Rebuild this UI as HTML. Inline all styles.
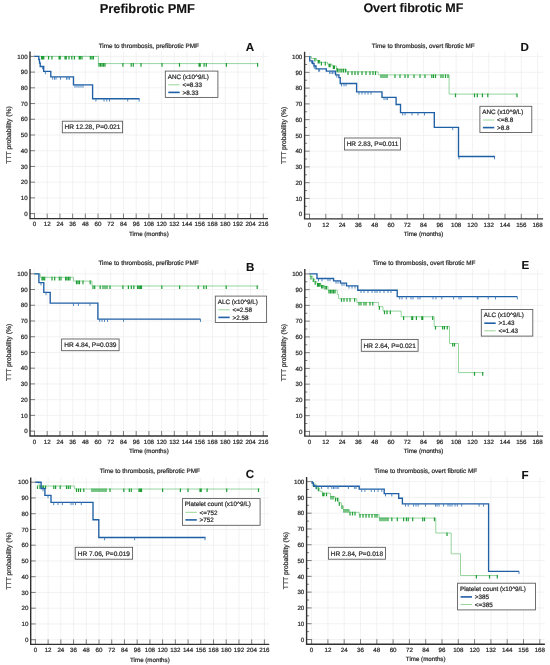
<!DOCTYPE html><html><head><meta charset='utf-8'><style>html,body{margin:0;padding:0;background:#fff;}svg{display:block;will-change:transform;} text{text-rendering:geometricPrecision;stroke:#2b2b2b;stroke-width:0.22px;} text.hd{stroke:#111;stroke-width:0.1px;}</style></head><body>
<svg width='550' height='665' viewBox='0 0 550 665' font-family="'Liberation Sans', sans-serif">
<rect width='550' height='665' fill='#fff'/>
<text x='147.3' y='12.6' text-anchor='middle' font-size='12.9' font-weight='bold' fill='#111' class='hd'>Prefibrotic PMF</text>
<text x='413.4' y='12.1' text-anchor='middle' font-size='12.5' font-weight='bold' fill='#111' class='hd'>Overt fibrotic MF</text>
<path d='M34.50 51.50V218.60M47.21 51.50V218.60M59.92 51.50V218.60M72.63 51.50V218.60M85.34 51.50V218.60M98.06 51.50V218.60M110.77 51.50V218.60M123.48 51.50V218.60M136.19 51.50V218.60M148.90 51.50V218.60M161.61 51.50V218.60M174.32 51.50V218.60M187.03 51.50V218.60M199.74 51.50V218.60M212.46 51.50V218.60M225.17 51.50V218.60M237.88 51.50V218.60M250.59 51.50V218.60M263.30 51.50V218.60M30.00 213.60H268.00M30.00 197.88H268.00M30.00 182.16H268.00M30.00 166.44H268.00M30.00 150.72H268.00M30.00 135.00H268.00M30.00 119.28H268.00M30.00 103.56H268.00M30.00 87.84H268.00M30.00 72.12H268.00M30.00 56.40H268.00' stroke='#efefef' stroke-width='0.8' fill='none'/>
<path d='M34.50 218.60V213.60M47.21 218.60V213.60M59.92 218.60V213.60M72.63 218.60V213.60M85.34 218.60V213.60M98.06 218.60V213.60M110.77 218.60V213.60M123.48 218.60V213.60M136.19 218.60V213.60M148.90 218.60V213.60M161.61 218.60V213.60M174.32 218.60V213.60M187.03 218.60V213.60M199.74 218.60V213.60M212.46 218.60V213.60M225.17 218.60V213.60M237.88 218.60V213.60M250.59 218.60V213.60M263.30 218.60V213.60M30.00 213.60H35.00M30.00 197.88H35.00M30.00 182.16H35.00M30.00 166.44H35.00M30.00 150.72H35.00M30.00 135.00H35.00M30.00 119.28H35.00M30.00 103.56H35.00M30.00 87.84H35.00M30.00 72.12H35.00M30.00 56.40H35.00' stroke='#606060' stroke-width='0.8' fill='none'/>
<path d='M30.00 51.50V218.60H268.00' stroke='#303030' stroke-width='1.4' fill='none'/>
<g font-size='6.2' fill='#2b2b2b'><text x='34.50' y='226.20' text-anchor='middle'>0</text><text x='47.21' y='226.20' text-anchor='middle'>12</text><text x='59.92' y='226.20' text-anchor='middle'>24</text><text x='72.63' y='226.20' text-anchor='middle'>36</text><text x='85.34' y='226.20' text-anchor='middle'>48</text><text x='98.06' y='226.20' text-anchor='middle'>60</text><text x='110.77' y='226.20' text-anchor='middle'>72</text><text x='123.48' y='226.20' text-anchor='middle'>84</text><text x='136.19' y='226.20' text-anchor='middle'>96</text><text x='148.90' y='226.20' text-anchor='middle'>108</text><text x='161.61' y='226.20' text-anchor='middle'>120</text><text x='174.32' y='226.20' text-anchor='middle'>132</text><text x='187.03' y='226.20' text-anchor='middle'>144</text><text x='199.74' y='226.20' text-anchor='middle'>156</text><text x='212.46' y='226.20' text-anchor='middle'>168</text><text x='225.17' y='226.20' text-anchor='middle'>180</text><text x='237.88' y='226.20' text-anchor='middle'>192</text><text x='250.59' y='226.20' text-anchor='middle'>204</text><text x='263.30' y='226.20' text-anchor='middle'>216</text><text x='27.70' y='215.80' text-anchor='end'>0</text><text x='27.70' y='200.08' text-anchor='end'>10</text><text x='27.70' y='184.36' text-anchor='end'>20</text><text x='27.70' y='168.64' text-anchor='end'>30</text><text x='27.70' y='152.92' text-anchor='end'>40</text><text x='27.70' y='137.20' text-anchor='end'>50</text><text x='27.70' y='121.48' text-anchor='end'>60</text><text x='27.70' y='105.76' text-anchor='end'>70</text><text x='27.70' y='90.04' text-anchor='end'>80</text><text x='27.70' y='74.32' text-anchor='end'>90</text><text x='27.70' y='58.60' text-anchor='end'>100</text></g>
<text x='148.90' y='235.80' text-anchor='middle' font-size='6.2' fill='#2b2b2b'>Time (months)</text>
<text transform='translate(10.60 135.00) rotate(-90)' text-anchor='middle' font-size='6.75' fill='#2b2b2b'>TTT probability (%)</text>
<text x='148.80' y='47.80' text-anchor='middle' font-size='6.35' fill='#2b2b2b'>Time to thrombosis, prefibrotic PMF</text>
<text x='245.80' y='50.70' font-size='11.6' font-weight='bold' fill='#111' class='hd'>A</text>
<path d='M34.5 56.4H98.4V63.6H258' stroke='#74c880' stroke-width='0.75' fill='none'/>
<path d='M41.6 55.9v3.6M42.7 55.9v3.6M43.8 55.9v3.6M48.6 55.9v3.6M51.9 55.9v3.6M59.1 55.9v3.6M60.2 55.9v3.6M65 55.9v3.6M66.3 55.9v3.6M69 55.9v3.6M71.8 55.9v3.6M74.4 55.9v3.6M79.2 55.9v3.6M80.3 55.9v3.6M82 55.9v3.6M90.3 55.9v3.6M91.9 55.9v3.6M93.4 55.9v3.6M99 63.1v3.6M100.5 63.1v3.6M102 63.1v3.6M103.5 63.1v3.6M105 63.1v3.6M122.9 63.1v3.6M131.2 63.1v3.6M133.3 63.1v3.6M141 63.1v3.6M162 63.1v3.6M179.5 63.1v3.6M199.1 63.1v3.6M200.2 63.1v3.6M204.1 63.1v3.6M206.3 63.1v3.6M226.4 63.1v3.6M257.6 63.1v3.6' stroke='#1f9e36' stroke-width='1.2' fill='none'/>
<path d='M34.5 56.4H38.8V59.5H39.5V63H40.2V66.5H43.7V71.4H50.8V76.9H73.5V84.9H92.6V98.7H139.5' stroke='#1f5fa6' stroke-width='1.35' fill='none' stroke-linejoin='miter'/>
<path d='M42.6 66.5v2.8M45.4 71.4v2.8M52.7 76.9v2.8M54.5 76.9v2.8M56 76.9v2.8M60.5 76.9v2.8M66.5 76.9v2.8M68 76.9v2.8M69.5 76.9v2.8M75 84.9v2.8M77 84.9v2.8M79 84.9v2.8M81 84.9v2.8M83 84.9v2.8M95.9 98.7v2.8M104 98.7v2.8M106.8 98.7v2.8M109.5 98.7v2.8M127.7 98.7v2.8M139.2 98.7v2.8' stroke='#3d78b8' stroke-width='0.9' fill='none'/>
<rect x='165.3' y='71.1' width='52.599999999999994' height='26.30000000000001' fill='#fff' stroke='#555' stroke-width='0.85'/>
<text x='167.70000000000002' y='78.69999999999999' font-size='6.3' fill='#2b2b2b'>ANC (x10^9/L)</text>
<path d='M168.3 84.8h11.4' stroke='#98d698' stroke-width='1.0'/>
<text x='182.5' y='87.0' font-size='6.3' fill='#2b2b2b'>&lt;=8.33</text>
<path d='M168.3 92.39999999999999h11.4' stroke='#1f5fa6' stroke-width='1.6'/>
<text x='182.5' y='94.6' font-size='6.3' fill='#2b2b2b'>&gt;8.33</text>
<rect x='62.3' y='121.2' width='60.3' height='11.600000000000009' fill='#fff' stroke='#555' stroke-width='0.85'/>
<text x='92.45' y='129.20' text-anchor='middle' font-size='6.55' fill='#2b2b2b'>HR 12.28, P=0.021</text>
<path d='M34.50 268.90V436.00M47.21 268.90V436.00M59.92 268.90V436.00M72.63 268.90V436.00M85.34 268.90V436.00M98.06 268.90V436.00M110.77 268.90V436.00M123.48 268.90V436.00M136.19 268.90V436.00M148.90 268.90V436.00M161.61 268.90V436.00M174.32 268.90V436.00M187.03 268.90V436.00M199.74 268.90V436.00M212.46 268.90V436.00M225.17 268.90V436.00M237.88 268.90V436.00M250.59 268.90V436.00M263.30 268.90V436.00M30.00 431.10H268.00M30.00 415.37H268.00M30.00 399.64H268.00M30.00 383.91H268.00M30.00 368.18H268.00M30.00 352.45H268.00M30.00 336.72H268.00M30.00 320.99H268.00M30.00 305.26H268.00M30.00 289.53H268.00M30.00 273.80H268.00' stroke='#efefef' stroke-width='0.8' fill='none'/>
<path d='M34.50 436.00V431.00M47.21 436.00V431.00M59.92 436.00V431.00M72.63 436.00V431.00M85.34 436.00V431.00M98.06 436.00V431.00M110.77 436.00V431.00M123.48 436.00V431.00M136.19 436.00V431.00M148.90 436.00V431.00M161.61 436.00V431.00M174.32 436.00V431.00M187.03 436.00V431.00M199.74 436.00V431.00M212.46 436.00V431.00M225.17 436.00V431.00M237.88 436.00V431.00M250.59 436.00V431.00M263.30 436.00V431.00M30.00 431.10H35.00M30.00 415.37H35.00M30.00 399.64H35.00M30.00 383.91H35.00M30.00 368.18H35.00M30.00 352.45H35.00M30.00 336.72H35.00M30.00 320.99H35.00M30.00 305.26H35.00M30.00 289.53H35.00M30.00 273.80H35.00' stroke='#606060' stroke-width='0.8' fill='none'/>
<path d='M30.00 268.90V436.00H268.00' stroke='#303030' stroke-width='1.4' fill='none'/>
<g font-size='6.2' fill='#2b2b2b'><text x='34.50' y='443.60' text-anchor='middle'>0</text><text x='47.21' y='443.60' text-anchor='middle'>12</text><text x='59.92' y='443.60' text-anchor='middle'>24</text><text x='72.63' y='443.60' text-anchor='middle'>36</text><text x='85.34' y='443.60' text-anchor='middle'>48</text><text x='98.06' y='443.60' text-anchor='middle'>60</text><text x='110.77' y='443.60' text-anchor='middle'>72</text><text x='123.48' y='443.60' text-anchor='middle'>84</text><text x='136.19' y='443.60' text-anchor='middle'>96</text><text x='148.90' y='443.60' text-anchor='middle'>108</text><text x='161.61' y='443.60' text-anchor='middle'>120</text><text x='174.32' y='443.60' text-anchor='middle'>132</text><text x='187.03' y='443.60' text-anchor='middle'>144</text><text x='199.74' y='443.60' text-anchor='middle'>156</text><text x='212.46' y='443.60' text-anchor='middle'>168</text><text x='225.17' y='443.60' text-anchor='middle'>180</text><text x='237.88' y='443.60' text-anchor='middle'>192</text><text x='250.59' y='443.60' text-anchor='middle'>204</text><text x='263.30' y='443.60' text-anchor='middle'>216</text><text x='27.70' y='433.30' text-anchor='end'>0</text><text x='27.70' y='417.57' text-anchor='end'>10</text><text x='27.70' y='401.84' text-anchor='end'>20</text><text x='27.70' y='386.11' text-anchor='end'>30</text><text x='27.70' y='370.38' text-anchor='end'>40</text><text x='27.70' y='354.65' text-anchor='end'>50</text><text x='27.70' y='338.92' text-anchor='end'>60</text><text x='27.70' y='323.19' text-anchor='end'>70</text><text x='27.70' y='307.46' text-anchor='end'>80</text><text x='27.70' y='291.73' text-anchor='end'>90</text><text x='27.70' y='276.00' text-anchor='end'>100</text></g>
<text x='148.90' y='453.20' text-anchor='middle' font-size='6.2' fill='#2b2b2b'>Time (months)</text>
<text transform='translate(10.60 352.45) rotate(-90)' text-anchor='middle' font-size='6.75' fill='#2b2b2b'>TTT probability (%)</text>
<text x='148.60' y='265.10' text-anchor='middle' font-size='6.35' fill='#2b2b2b'>Time to thrombosis, prefibrotic PMF</text>
<text x='245.90' y='270.80' font-size='11.6' font-weight='bold' fill='#111' class='hd'>B</text>
<path d='M34.5 273.8H40.2V277.3H73.5V281.1H92V286H258.5' stroke='#74c880' stroke-width='0.75' fill='none'/>
<path d='M42 276.8v3.6M43.3 276.8v3.6M44.7 276.8v3.6M52 276.8v3.6M54.7 276.8v3.6M59.3 276.8v3.6M61 276.8v3.6M65.6 276.8v3.6M67 276.8v3.6M68.5 276.8v3.6M70 276.8v3.6M76.5 280.6v3.6M78 280.6v3.6M79.5 280.6v3.6M83 280.6v3.6M90.2 280.6v3.6M93 285.5v3.6M94.7 285.5v3.6M100.2 285.5v3.6M103 285.5v3.6M105 285.5v3.6M107 285.5v3.6M110 285.5v3.6M122.9 285.5v3.6M128.4 285.5v3.6M131.3 285.5v3.6M133.8 285.5v3.6M137.6 285.5v3.6M139 285.5v3.6M140.3 285.5v3.6M141.5 285.5v3.6M161.8 285.5v3.6M179.6 285.5v3.6M198.2 285.5v3.6M203.8 285.5v3.6M206.3 285.5v3.6M226.2 285.5v3.6M257.2 285.5v3.6' stroke='#1f9e36' stroke-width='1.2' fill='none'/>
<path d='M34.5 273.8H38.9V282.6H43.8V292.4H50.2V303.1H97.9V319.1H200.5' stroke='#1f5fa6' stroke-width='1.35' fill='none' stroke-linejoin='miter'/>
<path d='M41 282.6v2.8M46 292.4v2.8M73.5 303.1v2.8M78.4 303.1v2.8M90 303.1v2.8M99.7 319.1v2.8M102 319.1v2.8M104.5 319.1v2.8M107.5 319.1v2.8M123.5 319.1v2.8M200.5 319.1v2.8' stroke='#3d78b8' stroke-width='0.9' fill='none'/>
<rect x='215.3' y='296.1' width='51.30000000000001' height='26.399999999999977' fill='#fff' stroke='#555' stroke-width='0.85'/>
<text x='217.70000000000002' y='303.70000000000005' font-size='6.3' fill='#2b2b2b'>ALC (x10^9/L)</text>
<path d='M218.3 309.8h11.4' stroke='#98d698' stroke-width='1.0'/>
<text x='232.5' y='312.0' font-size='6.3' fill='#2b2b2b'>&lt;=2.58</text>
<path d='M218.3 317.40000000000003h11.4' stroke='#1f5fa6' stroke-width='1.6'/>
<text x='232.5' y='319.6' font-size='6.3' fill='#2b2b2b'>&gt;2.58</text>
<rect x='61.6' y='339' width='57.49999999999999' height='11.699999999999989' fill='#fff' stroke='#555' stroke-width='0.85'/>
<text x='90.35' y='347.10' text-anchor='middle' font-size='6.55' fill='#2b2b2b'>HR 4.84, P=0.039</text>
<path d='M35.40 477.40V644.40M48.12 477.40V644.40M60.84 477.40V644.40M73.57 477.40V644.40M86.29 477.40V644.40M99.01 477.40V644.40M111.73 477.40V644.40M124.46 477.40V644.40M137.18 477.40V644.40M149.90 477.40V644.40M162.62 477.40V644.40M175.34 477.40V644.40M188.07 477.40V644.40M200.79 477.40V644.40M213.51 477.40V644.40M226.23 477.40V644.40M238.96 477.40V644.40M251.68 477.40V644.40M264.40 477.40V644.40M30.70 639.70H269.20M30.70 623.95H269.20M30.70 608.20H269.20M30.70 592.45H269.20M30.70 576.70H269.20M30.70 560.95H269.20M30.70 545.20H269.20M30.70 529.45H269.20M30.70 513.70H269.20M30.70 497.95H269.20M30.70 482.20H269.20' stroke='#efefef' stroke-width='0.8' fill='none'/>
<path d='M35.40 644.40V639.40M48.12 644.40V639.40M60.84 644.40V639.40M73.57 644.40V639.40M86.29 644.40V639.40M99.01 644.40V639.40M111.73 644.40V639.40M124.46 644.40V639.40M137.18 644.40V639.40M149.90 644.40V639.40M162.62 644.40V639.40M175.34 644.40V639.40M188.07 644.40V639.40M200.79 644.40V639.40M213.51 644.40V639.40M226.23 644.40V639.40M238.96 644.40V639.40M251.68 644.40V639.40M264.40 644.40V639.40M30.70 639.70H35.70M30.70 623.95H35.70M30.70 608.20H35.70M30.70 592.45H35.70M30.70 576.70H35.70M30.70 560.95H35.70M30.70 545.20H35.70M30.70 529.45H35.70M30.70 513.70H35.70M30.70 497.95H35.70M30.70 482.20H35.70' stroke='#606060' stroke-width='0.8' fill='none'/>
<path d='M30.70 477.40V644.40H269.20' stroke='#303030' stroke-width='1.4' fill='none'/>
<g font-size='6.2' fill='#2b2b2b'><text x='35.40' y='652.00' text-anchor='middle'>0</text><text x='48.12' y='652.00' text-anchor='middle'>12</text><text x='60.84' y='652.00' text-anchor='middle'>24</text><text x='73.57' y='652.00' text-anchor='middle'>36</text><text x='86.29' y='652.00' text-anchor='middle'>48</text><text x='99.01' y='652.00' text-anchor='middle'>60</text><text x='111.73' y='652.00' text-anchor='middle'>72</text><text x='124.46' y='652.00' text-anchor='middle'>84</text><text x='137.18' y='652.00' text-anchor='middle'>96</text><text x='149.90' y='652.00' text-anchor='middle'>108</text><text x='162.62' y='652.00' text-anchor='middle'>120</text><text x='175.34' y='652.00' text-anchor='middle'>132</text><text x='188.07' y='652.00' text-anchor='middle'>144</text><text x='200.79' y='652.00' text-anchor='middle'>156</text><text x='213.51' y='652.00' text-anchor='middle'>168</text><text x='226.23' y='652.00' text-anchor='middle'>180</text><text x='238.96' y='652.00' text-anchor='middle'>192</text><text x='251.68' y='652.00' text-anchor='middle'>204</text><text x='264.40' y='652.00' text-anchor='middle'>216</text><text x='28.40' y='641.90' text-anchor='end'>0</text><text x='28.40' y='626.15' text-anchor='end'>10</text><text x='28.40' y='610.40' text-anchor='end'>20</text><text x='28.40' y='594.65' text-anchor='end'>30</text><text x='28.40' y='578.90' text-anchor='end'>40</text><text x='28.40' y='563.15' text-anchor='end'>50</text><text x='28.40' y='547.40' text-anchor='end'>60</text><text x='28.40' y='531.65' text-anchor='end'>70</text><text x='28.40' y='515.90' text-anchor='end'>80</text><text x='28.40' y='500.15' text-anchor='end'>90</text><text x='28.40' y='484.40' text-anchor='end'>100</text></g>
<text x='149.90' y='661.60' text-anchor='middle' font-size='6.2' fill='#2b2b2b'>Time (months)</text>
<text transform='translate(11.30 560.95) rotate(-90)' text-anchor='middle' font-size='6.75' fill='#2b2b2b'>TTT probability (%)</text>
<text x='149.80' y='473.20' text-anchor='middle' font-size='6.35' fill='#2b2b2b'>Time to thrombosis, prefibrotic PMF</text>
<text x='245.80' y='478.30' font-size='11.6' font-weight='bold' fill='#111' class='hd'>C</text>
<path d='M35.4 482.2H39V486H74.7V489H259.8' stroke='#74c880' stroke-width='0.75' fill='none'/>
<path d='M37.5 485.5v3.6M40 485.5v3.6M42 485.5v3.6M43.5 485.5v3.6M45.6 485.5v3.6M53.8 485.5v3.6M55.6 485.5v3.6M60.2 485.5v3.6M66.5 485.5v3.6M68.3 485.5v3.6M70.2 485.5v3.6M76.5 488.5v3.6M78.5 488.5v3.6M80.5 488.5v3.6M83.8 488.5v3.6M92 488.5v3.6M94 488.5v3.6M96 488.5v3.6M98 488.5v3.6M100 488.5v3.6M102 488.5v3.6M104 488.5v3.6M106 488.5v3.6M110 488.5v3.6M123.8 488.5v3.6M129.3 488.5v3.6M131.3 488.5v3.6M139 488.5v3.6M140.3 488.5v3.6M141.5 488.5v3.6M162.6 488.5v3.6M180.4 488.5v3.6M188 488.5v3.6M200 488.5v3.6M201.2 488.5v3.6M207.1 488.5v3.6M226.7 488.5v3.6M258.5 488.5v3.6' stroke='#1f9e36' stroke-width='1.2' fill='none'/>
<path d='M35.4 482.2H41.1V488.5H44.9V495.3H51V502.3H93V519.7H98.8V537.5H205.6' stroke='#1f5fa6' stroke-width='1.35' fill='none' stroke-linejoin='miter'/>
<path d='M43 488.5v2.8M48 495.3v2.8M53.7 502.3v2.8M58 502.3v2.8M62.4 502.3v2.8M71 502.3v2.8M73 502.3v2.8M75.5 502.3v2.8M81.3 502.3v2.8M104.6 537.5v2.8M134.6 537.5v2.8M205 537.5v2.8' stroke='#3d78b8' stroke-width='0.9' fill='none'/>
<rect x='182.4' y='498.6' width='77.70000000000002' height='26.699999999999932' fill='#fff' stroke='#555' stroke-width='0.85'/>
<text x='184.8' y='506.20000000000005' font-size='6.3' fill='#2b2b2b'>Platelet count (x10^9/L)</text>
<path d='M185.4 512.3000000000001h11.4' stroke='#98d698' stroke-width='1.0'/>
<text x='199.6' y='514.5000000000001' font-size='6.3' fill='#2b2b2b'>&lt;=752</text>
<path d='M185.4 519.9000000000001h11.4' stroke='#1f5fa6' stroke-width='1.6'/>
<text x='199.6' y='522.1000000000001' font-size='6.3' fill='#2b2b2b'>&gt;752</text>
<rect x='75.2' y='547.3' width='57.39999999999999' height='11.900000000000091' fill='#fff' stroke='#555' stroke-width='0.85'/>
<text x='103.90' y='555.60' text-anchor='middle' font-size='6.55' fill='#2b2b2b'>HR 7.06, P=0.019</text>
<path d='M309.50 51.80V218.90M325.79 51.80V218.90M342.09 51.80V218.90M358.38 51.80V218.90M374.67 51.80V218.90M390.96 51.80V218.90M407.26 51.80V218.90M423.55 51.80V218.90M439.84 51.80V218.90M456.14 51.80V218.90M472.43 51.80V218.90M488.72 51.80V218.90M505.01 51.80V218.90M521.31 51.80V218.90M537.60 51.80V218.90M304.60 214.20H543.10M304.60 198.44H543.10M304.60 182.68H543.10M304.60 166.92H543.10M304.60 151.16H543.10M304.60 135.40H543.10M304.60 119.64H543.10M304.60 103.88H543.10M304.60 88.12H543.10M304.60 72.36H543.10M304.60 56.60H543.10' stroke='#efefef' stroke-width='0.8' fill='none'/>
<path d='M309.50 218.90V213.90M325.79 218.90V213.90M342.09 218.90V213.90M358.38 218.90V213.90M374.67 218.90V213.90M390.96 218.90V213.90M407.26 218.90V213.90M423.55 218.90V213.90M439.84 218.90V213.90M456.14 218.90V213.90M472.43 218.90V213.90M488.72 218.90V213.90M505.01 218.90V213.90M521.31 218.90V213.90M537.60 218.90V213.90M304.60 214.20H309.60M304.60 198.44H309.60M304.60 182.68H309.60M304.60 166.92H309.60M304.60 151.16H309.60M304.60 135.40H309.60M304.60 119.64H309.60M304.60 103.88H309.60M304.60 88.12H309.60M304.60 72.36H309.60M304.60 56.60H309.60M304.60 206.32H307.10M304.60 190.56H307.10M304.60 174.80H307.10M304.60 159.04H307.10M304.60 143.28H307.10M304.60 127.52H307.10M304.60 111.76H307.10M304.60 96.00H307.10M304.60 80.24H307.10M304.60 64.48H307.10' stroke='#606060' stroke-width='0.8' fill='none'/>
<path d='M304.60 51.80V218.90H543.10' stroke='#303030' stroke-width='1.4' fill='none'/>
<g font-size='6.2' fill='#2b2b2b'><text x='309.50' y='226.50' text-anchor='middle'>0</text><text x='325.79' y='226.50' text-anchor='middle'>12</text><text x='342.09' y='226.50' text-anchor='middle'>24</text><text x='358.38' y='226.50' text-anchor='middle'>36</text><text x='374.67' y='226.50' text-anchor='middle'>48</text><text x='390.96' y='226.50' text-anchor='middle'>60</text><text x='407.26' y='226.50' text-anchor='middle'>72</text><text x='423.55' y='226.50' text-anchor='middle'>84</text><text x='439.84' y='226.50' text-anchor='middle'>96</text><text x='456.14' y='226.50' text-anchor='middle'>108</text><text x='472.43' y='226.50' text-anchor='middle'>120</text><text x='488.72' y='226.50' text-anchor='middle'>132</text><text x='505.01' y='226.50' text-anchor='middle'>144</text><text x='521.31' y='226.50' text-anchor='middle'>156</text><text x='537.60' y='226.50' text-anchor='middle'>168</text><text x='302.30' y='216.40' text-anchor='end'>0</text><text x='302.30' y='200.64' text-anchor='end'>10</text><text x='302.30' y='184.88' text-anchor='end'>20</text><text x='302.30' y='169.12' text-anchor='end'>30</text><text x='302.30' y='153.36' text-anchor='end'>40</text><text x='302.30' y='137.60' text-anchor='end'>50</text><text x='302.30' y='121.84' text-anchor='end'>60</text><text x='302.30' y='106.08' text-anchor='end'>70</text><text x='302.30' y='90.32' text-anchor='end'>80</text><text x='302.30' y='74.56' text-anchor='end'>90</text><text x='302.30' y='58.80' text-anchor='end'>100</text></g>
<text x='423.55' y='236.10' text-anchor='middle' font-size='6.2' fill='#2b2b2b'>Time (months)</text>
<text transform='translate(286.00 135.40) rotate(-90)' text-anchor='middle' font-size='6.75' fill='#2b2b2b'>TTT probability (%)</text>
<text x='423.20' y='47.80' text-anchor='middle' font-size='6.35' fill='#2b2b2b'>Time to thrombosis, overt fibrotic MF</text>
<text x='520.60' y='50.50' font-size='11.6' font-weight='bold' fill='#111' class='hd'>D</text>
<path d='M309.5 56.6H311.5V58.5H316.5V60.5H320V62.3H327.5V64.2H332V66H336.5V68.6H337.5V69.3H346.4V71.8H378.2V74.9H449.1V94.1H516.9' stroke='#74c880' stroke-width='0.75' fill='none'/>
<path d='M314.9 58.0v3.6M318.2 60.0v3.6M319.2 60.0v3.6M321.4 61.8v3.6M325.3 61.8v3.6M329.1 63.7v3.6M330.1 63.7v3.6M333.4 65.5v3.6M334.4 65.5v3.6M337 68.1v3.6M338 68.8v3.6M340 68.8v3.6M341.8 68.8v3.6M343.5 68.8v3.6M345.5 68.8v3.6M348 71.3v3.6M352 71.3v3.6M355 71.3v3.6M358 71.3v3.6M362 71.3v3.6M366 71.3v3.6M370 71.3v3.6M373 71.3v3.6M375.5 71.3v3.6M381 74.4v3.6M383 74.4v3.6M385 74.4v3.6M387 74.4v3.6M395 74.4v3.6M400 74.4v3.6M405 74.4v3.6M408 74.4v3.6M414 74.4v3.6M420 74.4v3.6M425 74.4v3.6M431.8 74.4v3.6M433.5 74.4v3.6M435.5 74.4v3.6M441 74.4v3.6M443 74.4v3.6M445.5 74.4v3.6M448 74.4v3.6M455.5 93.6v3.6M474.5 93.6v3.6M477.3 93.6v3.6M482.4 93.6v3.6M487.8 93.6v3.6M517 93.6v3.6' stroke='#1f9e36' stroke-width='1.2' fill='none'/>
<path d='M309.5 56.6H309.8V60.8H312.7V63.5H314V66H316V68.9H326.3V71.1H335.6V74.9H338.9V77.6H340.2V83.5H356.6V91.8H382V97.3H396.1V104.5H400.5V112.6H434.3V127.3H458.5V156.5H495.1' stroke='#1f5fa6' stroke-width='1.35' fill='none' stroke-linejoin='miter'/>
<path d='M311.5 60.8v2.8M314.3 66v2.8M318.6 68.9v2.8M319.6 68.9v2.8M329.6 71.1v2.8M331 71.1v2.8M332.5 71.1v2.8M334 71.1v2.8M336.8 74.9v2.8M341.5 83.5v2.8M344 83.5v2.8M346 83.5v2.8M359 91.8v2.8M362 91.8v2.8M365 91.8v2.8M368 91.8v2.8M371 91.8v2.8M384 97.3v2.8M386 97.3v2.8M387.4 97.3v2.8M402.7 112.6v2.8M405 112.6v2.8M412 112.6v2.8M418 112.6v2.8M424.5 112.6v2.8M452.7 127.3v2.8M459 156.5v2.8M494.5 156.5v2.8' stroke='#3d78b8' stroke-width='0.9' fill='none'/>
<rect x='479.9' y='106.3' width='51.89999999999998' height='26.200000000000003' fill='#fff' stroke='#555' stroke-width='0.85'/>
<text x='482.29999999999995' y='113.89999999999999' font-size='6.3' fill='#2b2b2b'>ANC (x10^9/L)</text>
<path d='M482.9 120.0h11.4' stroke='#98d698' stroke-width='1.0'/>
<text x='497.09999999999997' y='122.2' font-size='6.3' fill='#2b2b2b'>&lt;=8.8</text>
<path d='M482.9 127.6h11.4' stroke='#1f5fa6' stroke-width='1.6'/>
<text x='497.09999999999997' y='129.79999999999998' font-size='6.3' fill='#2b2b2b'>&gt;8.8</text>
<rect x='344.5' y='138' width='56.0' height='12' fill='#fff' stroke='#555' stroke-width='0.85'/>
<text x='372.50' y='146.40' text-anchor='middle' font-size='6.55' fill='#2b2b2b'>HR 2.83, P=0.011</text>
<path d='M309.50 269.00V436.10M325.79 269.00V436.10M342.09 269.00V436.10M358.38 269.00V436.10M374.67 269.00V436.10M390.96 269.00V436.10M407.26 269.00V436.10M423.55 269.00V436.10M439.84 269.00V436.10M456.14 269.00V436.10M472.43 269.00V436.10M488.72 269.00V436.10M505.01 269.00V436.10M521.31 269.00V436.10M537.60 269.00V436.10M304.80 431.40H543.10M304.80 415.65H543.10M304.80 399.90H543.10M304.80 384.15H543.10M304.80 368.40H543.10M304.80 352.65H543.10M304.80 336.90H543.10M304.80 321.15H543.10M304.80 305.40H543.10M304.80 289.65H543.10M304.80 273.90H543.10' stroke='#efefef' stroke-width='0.8' fill='none'/>
<path d='M309.50 436.10V431.10M325.79 436.10V431.10M342.09 436.10V431.10M358.38 436.10V431.10M374.67 436.10V431.10M390.96 436.10V431.10M407.26 436.10V431.10M423.55 436.10V431.10M439.84 436.10V431.10M456.14 436.10V431.10M472.43 436.10V431.10M488.72 436.10V431.10M505.01 436.10V431.10M521.31 436.10V431.10M537.60 436.10V431.10M304.80 431.40H309.80M304.80 415.65H309.80M304.80 399.90H309.80M304.80 384.15H309.80M304.80 368.40H309.80M304.80 352.65H309.80M304.80 336.90H309.80M304.80 321.15H309.80M304.80 305.40H309.80M304.80 289.65H309.80M304.80 273.90H309.80M304.80 423.52H307.30M304.80 407.77H307.30M304.80 392.02H307.30M304.80 376.27H307.30M304.80 360.52H307.30M304.80 344.77H307.30M304.80 329.02H307.30M304.80 313.27H307.30M304.80 297.52H307.30M304.80 281.77H307.30' stroke='#606060' stroke-width='0.8' fill='none'/>
<path d='M304.80 269.00V436.10H543.10' stroke='#303030' stroke-width='1.4' fill='none'/>
<g font-size='6.2' fill='#2b2b2b'><text x='309.50' y='443.70' text-anchor='middle'>0</text><text x='325.79' y='443.70' text-anchor='middle'>12</text><text x='342.09' y='443.70' text-anchor='middle'>24</text><text x='358.38' y='443.70' text-anchor='middle'>36</text><text x='374.67' y='443.70' text-anchor='middle'>48</text><text x='390.96' y='443.70' text-anchor='middle'>60</text><text x='407.26' y='443.70' text-anchor='middle'>72</text><text x='423.55' y='443.70' text-anchor='middle'>84</text><text x='439.84' y='443.70' text-anchor='middle'>96</text><text x='456.14' y='443.70' text-anchor='middle'>108</text><text x='472.43' y='443.70' text-anchor='middle'>120</text><text x='488.72' y='443.70' text-anchor='middle'>132</text><text x='505.01' y='443.70' text-anchor='middle'>144</text><text x='521.31' y='443.70' text-anchor='middle'>156</text><text x='537.60' y='443.70' text-anchor='middle'>168</text><text x='302.50' y='433.60' text-anchor='end'>0</text><text x='302.50' y='417.85' text-anchor='end'>10</text><text x='302.50' y='402.10' text-anchor='end'>20</text><text x='302.50' y='386.35' text-anchor='end'>30</text><text x='302.50' y='370.60' text-anchor='end'>40</text><text x='302.50' y='354.85' text-anchor='end'>50</text><text x='302.50' y='339.10' text-anchor='end'>60</text><text x='302.50' y='323.35' text-anchor='end'>70</text><text x='302.50' y='307.60' text-anchor='end'>80</text><text x='302.50' y='291.85' text-anchor='end'>90</text><text x='302.50' y='276.10' text-anchor='end'>100</text></g>
<text x='423.55' y='453.30' text-anchor='middle' font-size='6.2' fill='#2b2b2b'>Time (months)</text>
<text transform='translate(286.20 352.65) rotate(-90)' text-anchor='middle' font-size='6.75' fill='#2b2b2b'>TTT probability (%)</text>
<text x='424.10' y='265.00' text-anchor='middle' font-size='6.35' fill='#2b2b2b'>Time to thrombosis, overt fibrotic MF</text>
<text x='521.40' y='269.20' font-size='11.6' font-weight='bold' fill='#111' class='hd'>E</text>
<path d='M309.5 273.9H310.2V276.3H312.8V279H314.8V281.6H317V283.6H321V285.5H324.5V286.4H328V290.3H337.3V294.5H338.6V298.7H356.8V302.4H378.6V306.7H383V311.1H401.2V316.8H434.2V326.5H449.5V343.5H458.5V372.6H483.6' stroke='#74c880' stroke-width='0.75' fill='none'/>
<path d='M311 275.8v3.6M313.3 278.5v3.6M315.2 281.1v3.6M317.5 283.1v3.6M318.7 283.1v3.6M320 283.1v3.6M321.6 285.0v3.6M323 285.0v3.6M325 285.9v3.6M326.5 285.9v3.6M329 289.8v3.6M330.5 289.8v3.6M332 289.8v3.6M333.5 289.8v3.6M335 289.8v3.6M341.5 298.2v3.6M344 298.2v3.6M347 298.2v3.6M350 298.2v3.6M354.6 298.2v3.6M359 301.9v3.6M361 301.9v3.6M364 301.9v3.6M366 301.9v3.6M370 301.9v3.6M372.8 301.9v3.6M379.4 306.2v3.6M384.5 310.6v3.6M387 310.6v3.6M390.3 310.6v3.6M403.6 316.3v3.6M411.8 316.3v3.6M412.7 316.3v3.6M416.4 316.3v3.6M421.8 316.3v3.6M422.7 316.3v3.6M432.7 316.3v3.6M435.5 326.0v3.6M442.7 326.0v3.6M444.5 326.0v3.6M447.3 326.0v3.6M452.7 343.0v3.6M454.5 343.0v3.6M474.5 372.1v3.6M482.7 372.1v3.6' stroke='#1f9e36' stroke-width='1.2' fill='none'/>
<path d='M309.5 273.9H317V278.5H333.6V280.9H340.5V283.1H346.5V285.8H357.8V290.2H397.2V296.6H517.3' stroke='#1f5fa6' stroke-width='1.35' fill='none' stroke-linejoin='miter'/>
<path d='M318.5 278.5v2.8M322 278.5v2.8M328 278.5v2.8M330 278.5v2.8M336 280.9v2.8M338 280.9v2.8M342 283.1v2.8M344 283.1v2.8M349 285.8v2.8M352 285.8v2.8M355 285.8v2.8M361 290.2v2.8M364 290.2v2.8M368 290.2v2.8M372 290.2v2.8M375 290.2v2.8M377 290.2v2.8M380 290.2v2.8M384 290.2v2.8M388 290.2v2.8M391 290.2v2.8M399.7 296.6v2.8M402 296.6v2.8M406.3 296.6v2.8M411 296.6v2.8M413 296.6v2.8M418 296.6v2.8M420 296.6v2.8M433 296.6v2.8M436 296.6v2.8M441.8 296.6v2.8M453.6 296.6v2.8M459 296.6v2.8M461 296.6v2.8M477.3 296.6v2.8M478 296.6v2.8M488.2 296.6v2.8M495.5 296.6v2.8M517.3 296.6v2.8' stroke='#3d78b8' stroke-width='0.9' fill='none'/>
<rect x='481.3' y='309.5' width='51.49999999999994' height='26.600000000000023' fill='#fff' stroke='#555' stroke-width='0.85'/>
<text x='483.7' y='317.1' font-size='6.3' fill='#2b2b2b'>ALC (x10^9/L)</text>
<path d='M484.3 323.2h11.4' stroke='#1f5fa6' stroke-width='1.6'/>
<text x='498.5' y='325.4' font-size='6.3' fill='#2b2b2b'>&gt;1.43</text>
<path d='M484.3 330.8h11.4' stroke='#98d698' stroke-width='1.0'/>
<text x='498.5' y='333.0' font-size='6.3' fill='#2b2b2b'>&lt;=1.43</text>
<rect x='361.3' y='339.4' width='56.80000000000001' height='11.900000000000034' fill='#fff' stroke='#555' stroke-width='0.85'/>
<text x='389.70' y='347.70' text-anchor='middle' font-size='6.55' fill='#2b2b2b'>HR 2.64, P=0.021</text>
<path d='M311.60 477.10V644.20M327.90 477.10V644.20M344.20 477.10V644.20M360.50 477.10V644.20M376.80 477.10V644.20M393.10 477.10V644.20M409.40 477.10V644.20M425.70 477.10V644.20M442.00 477.10V644.20M458.30 477.10V644.20M474.60 477.10V644.20M490.90 477.10V644.20M507.20 477.10V644.20M523.50 477.10V644.20M539.80 477.10V644.20M306.60 639.50H544.90M306.60 623.71H544.90M306.60 607.92H544.90M306.60 592.13H544.90M306.60 576.34H544.90M306.60 560.55H544.90M306.60 544.76H544.90M306.60 528.97H544.90M306.60 513.18H544.90M306.60 497.39H544.90M306.60 481.60H544.90' stroke='#efefef' stroke-width='0.8' fill='none'/>
<path d='M311.60 644.20V639.20M327.90 644.20V639.20M344.20 644.20V639.20M360.50 644.20V639.20M376.80 644.20V639.20M393.10 644.20V639.20M409.40 644.20V639.20M425.70 644.20V639.20M442.00 644.20V639.20M458.30 644.20V639.20M474.60 644.20V639.20M490.90 644.20V639.20M507.20 644.20V639.20M523.50 644.20V639.20M539.80 644.20V639.20M306.60 639.50H311.60M306.60 623.71H311.60M306.60 607.92H311.60M306.60 592.13H311.60M306.60 576.34H311.60M306.60 560.55H311.60M306.60 544.76H311.60M306.60 528.97H311.60M306.60 513.18H311.60M306.60 497.39H311.60M306.60 481.60H311.60M306.60 631.61H309.10M306.60 615.82H309.10M306.60 600.02H309.10M306.60 584.24H309.10M306.60 568.45H309.10M306.60 552.65H309.10M306.60 536.87H309.10M306.60 521.08H309.10M306.60 505.29H309.10M306.60 489.50H309.10' stroke='#606060' stroke-width='0.8' fill='none'/>
<path d='M306.60 477.10V644.20H544.90' stroke='#303030' stroke-width='1.4' fill='none'/>
<g font-size='6.2' fill='#2b2b2b'><text x='311.60' y='651.80' text-anchor='middle'>0</text><text x='327.90' y='651.80' text-anchor='middle'>12</text><text x='344.20' y='651.80' text-anchor='middle'>24</text><text x='360.50' y='651.80' text-anchor='middle'>36</text><text x='376.80' y='651.80' text-anchor='middle'>48</text><text x='393.10' y='651.80' text-anchor='middle'>60</text><text x='409.40' y='651.80' text-anchor='middle'>72</text><text x='425.70' y='651.80' text-anchor='middle'>84</text><text x='442.00' y='651.80' text-anchor='middle'>96</text><text x='458.30' y='651.80' text-anchor='middle'>108</text><text x='474.60' y='651.80' text-anchor='middle'>120</text><text x='490.90' y='651.80' text-anchor='middle'>132</text><text x='507.20' y='651.80' text-anchor='middle'>144</text><text x='523.50' y='651.80' text-anchor='middle'>156</text><text x='539.80' y='651.80' text-anchor='middle'>168</text><text x='304.30' y='641.70' text-anchor='end'>0</text><text x='304.30' y='625.91' text-anchor='end'>10</text><text x='304.30' y='610.12' text-anchor='end'>20</text><text x='304.30' y='594.33' text-anchor='end'>30</text><text x='304.30' y='578.54' text-anchor='end'>40</text><text x='304.30' y='562.75' text-anchor='end'>50</text><text x='304.30' y='546.96' text-anchor='end'>60</text><text x='304.30' y='531.17' text-anchor='end'>70</text><text x='304.30' y='515.38' text-anchor='end'>80</text><text x='304.30' y='499.59' text-anchor='end'>90</text><text x='304.30' y='483.80' text-anchor='end'>100</text></g>
<text x='425.70' y='661.40' text-anchor='middle' font-size='6.2' fill='#2b2b2b'>Time (months)</text>
<text transform='translate(288.00 560.55) rotate(-90)' text-anchor='middle' font-size='6.75' fill='#2b2b2b'>TTT probability (%)</text>
<text x='425.70' y='473.00' text-anchor='middle' font-size='6.35' fill='#2b2b2b'>Time to thrombosis, overt fibrotic MF</text>
<text x='521.40' y='479.00' font-size='11.6' font-weight='bold' fill='#111' class='hd'>F</text>
<path d='M311.6 481.6H313V484H315.9V486.2H317.8V488.1H319.7V491.3H322.3V493.2H330.5V496.4H335V498.3H338.8V502.7H341.4V505.9H343.3V509.7H349.6V512.3H359.2V514.6H379.1V518.1H435.8V533H451.2V553.8H460.5V575.5H497.8' stroke='#74c880' stroke-width='0.75' fill='none'/>
<path d='M313.5 483.5v3.6M316.4 485.7v3.6M318.3 487.6v3.6M322.8 492.7v3.6M324 492.7v3.6M326.5 492.7v3.6M331 495.9v3.6M333 495.9v3.6M335.5 497.8v3.6M337.5 497.8v3.6M339.3 502.2v3.6M342 505.4v3.6M344 509.2v3.6M346 509.2v3.6M348 509.2v3.6M350 511.79999999999995v3.6M352.5 511.79999999999995v3.6M355 511.79999999999995v3.6M360 514.1v3.6M363 514.1v3.6M366 514.1v3.6M369 514.1v3.6M372 514.1v3.6M375 514.1v3.6M377 514.1v3.6M380 517.6v3.6M382 517.6v3.6M384 517.6v3.6M386 517.6v3.6M388 517.6v3.6M391.8 517.6v3.6M397.3 517.6v3.6M403.6 517.6v3.6M406.4 517.6v3.6M408.2 517.6v3.6M412.7 517.6v3.6M422.7 517.6v3.6M424.5 517.6v3.6M434.5 517.6v3.6M447 532.5v3.6M476.4 575.0v3.6M489.5 575.0v3.6M497.3 575.0v3.6' stroke='#1f9e36' stroke-width='1.2' fill='none'/>
<path d='M311.6 481.6H312.1V483H313.4V485.5H314.6V486.2H359.2V489.1H384.2V493.6H398.7V498.2H402.4V503.8H488.6V571.3H519.1' stroke='#1f5fa6' stroke-width='1.35' fill='none' stroke-linejoin='miter'/>
<path d='M316 486.2v2.8M321.6 486.2v2.8M328 486.2v2.8M331.8 486.2v2.8M333.5 486.2v2.8M335 486.2v2.8M337 486.2v2.8M338.2 486.2v2.8M348.4 486.2v2.8M354.7 486.2v2.8M356 486.2v2.8M361.7 489.1v2.8M364.9 489.1v2.8M371.3 489.1v2.8M374.5 489.1v2.8M378 489.1v2.8M381.8 489.1v2.8M385.5 493.6v2.8M391.8 493.6v2.8M405.5 503.8v2.8M408.2 503.8v2.8M413.6 503.8v2.8M416 503.8v2.8M418.2 503.8v2.8M425.5 503.8v2.8M435.5 503.8v2.8M437 503.8v2.8M439 503.8v2.8M443.6 503.8v2.8M448 503.8v2.8M450 503.8v2.8M452 503.8v2.8M455 503.8v2.8M457.3 503.8v2.8M461.7 503.8v2.8M479.1 503.8v2.8M483.5 503.8v2.8M519 571.3v2.8' stroke='#3d78b8' stroke-width='0.9' fill='none'/>
<rect x='457.6' y='583.2' width='77.89999999999998' height='26.699999999999932' fill='#fff' stroke='#555' stroke-width='0.85'/>
<text x='460.0' y='590.8000000000001' font-size='6.3' fill='#2b2b2b'>Platelet count (x10^9/L)</text>
<path d='M460.6 596.9000000000001h11.4' stroke='#1f5fa6' stroke-width='1.6'/>
<text x='474.8' y='599.1000000000001' font-size='6.3' fill='#2b2b2b'>&gt;385</text>
<path d='M460.6 604.5000000000001h11.4' stroke='#98d698' stroke-width='1.0'/>
<text x='474.8' y='606.7000000000002' font-size='6.3' fill='#2b2b2b'>&lt;=385</text>
<rect x='328.4' y='547.3' width='57.10000000000002' height='11.900000000000091' fill='#fff' stroke='#555' stroke-width='0.85'/>
<text x='356.95' y='555.60' text-anchor='middle' font-size='6.55' fill='#2b2b2b'>HR 2.84, P=0.018</text>
</svg></body></html>
